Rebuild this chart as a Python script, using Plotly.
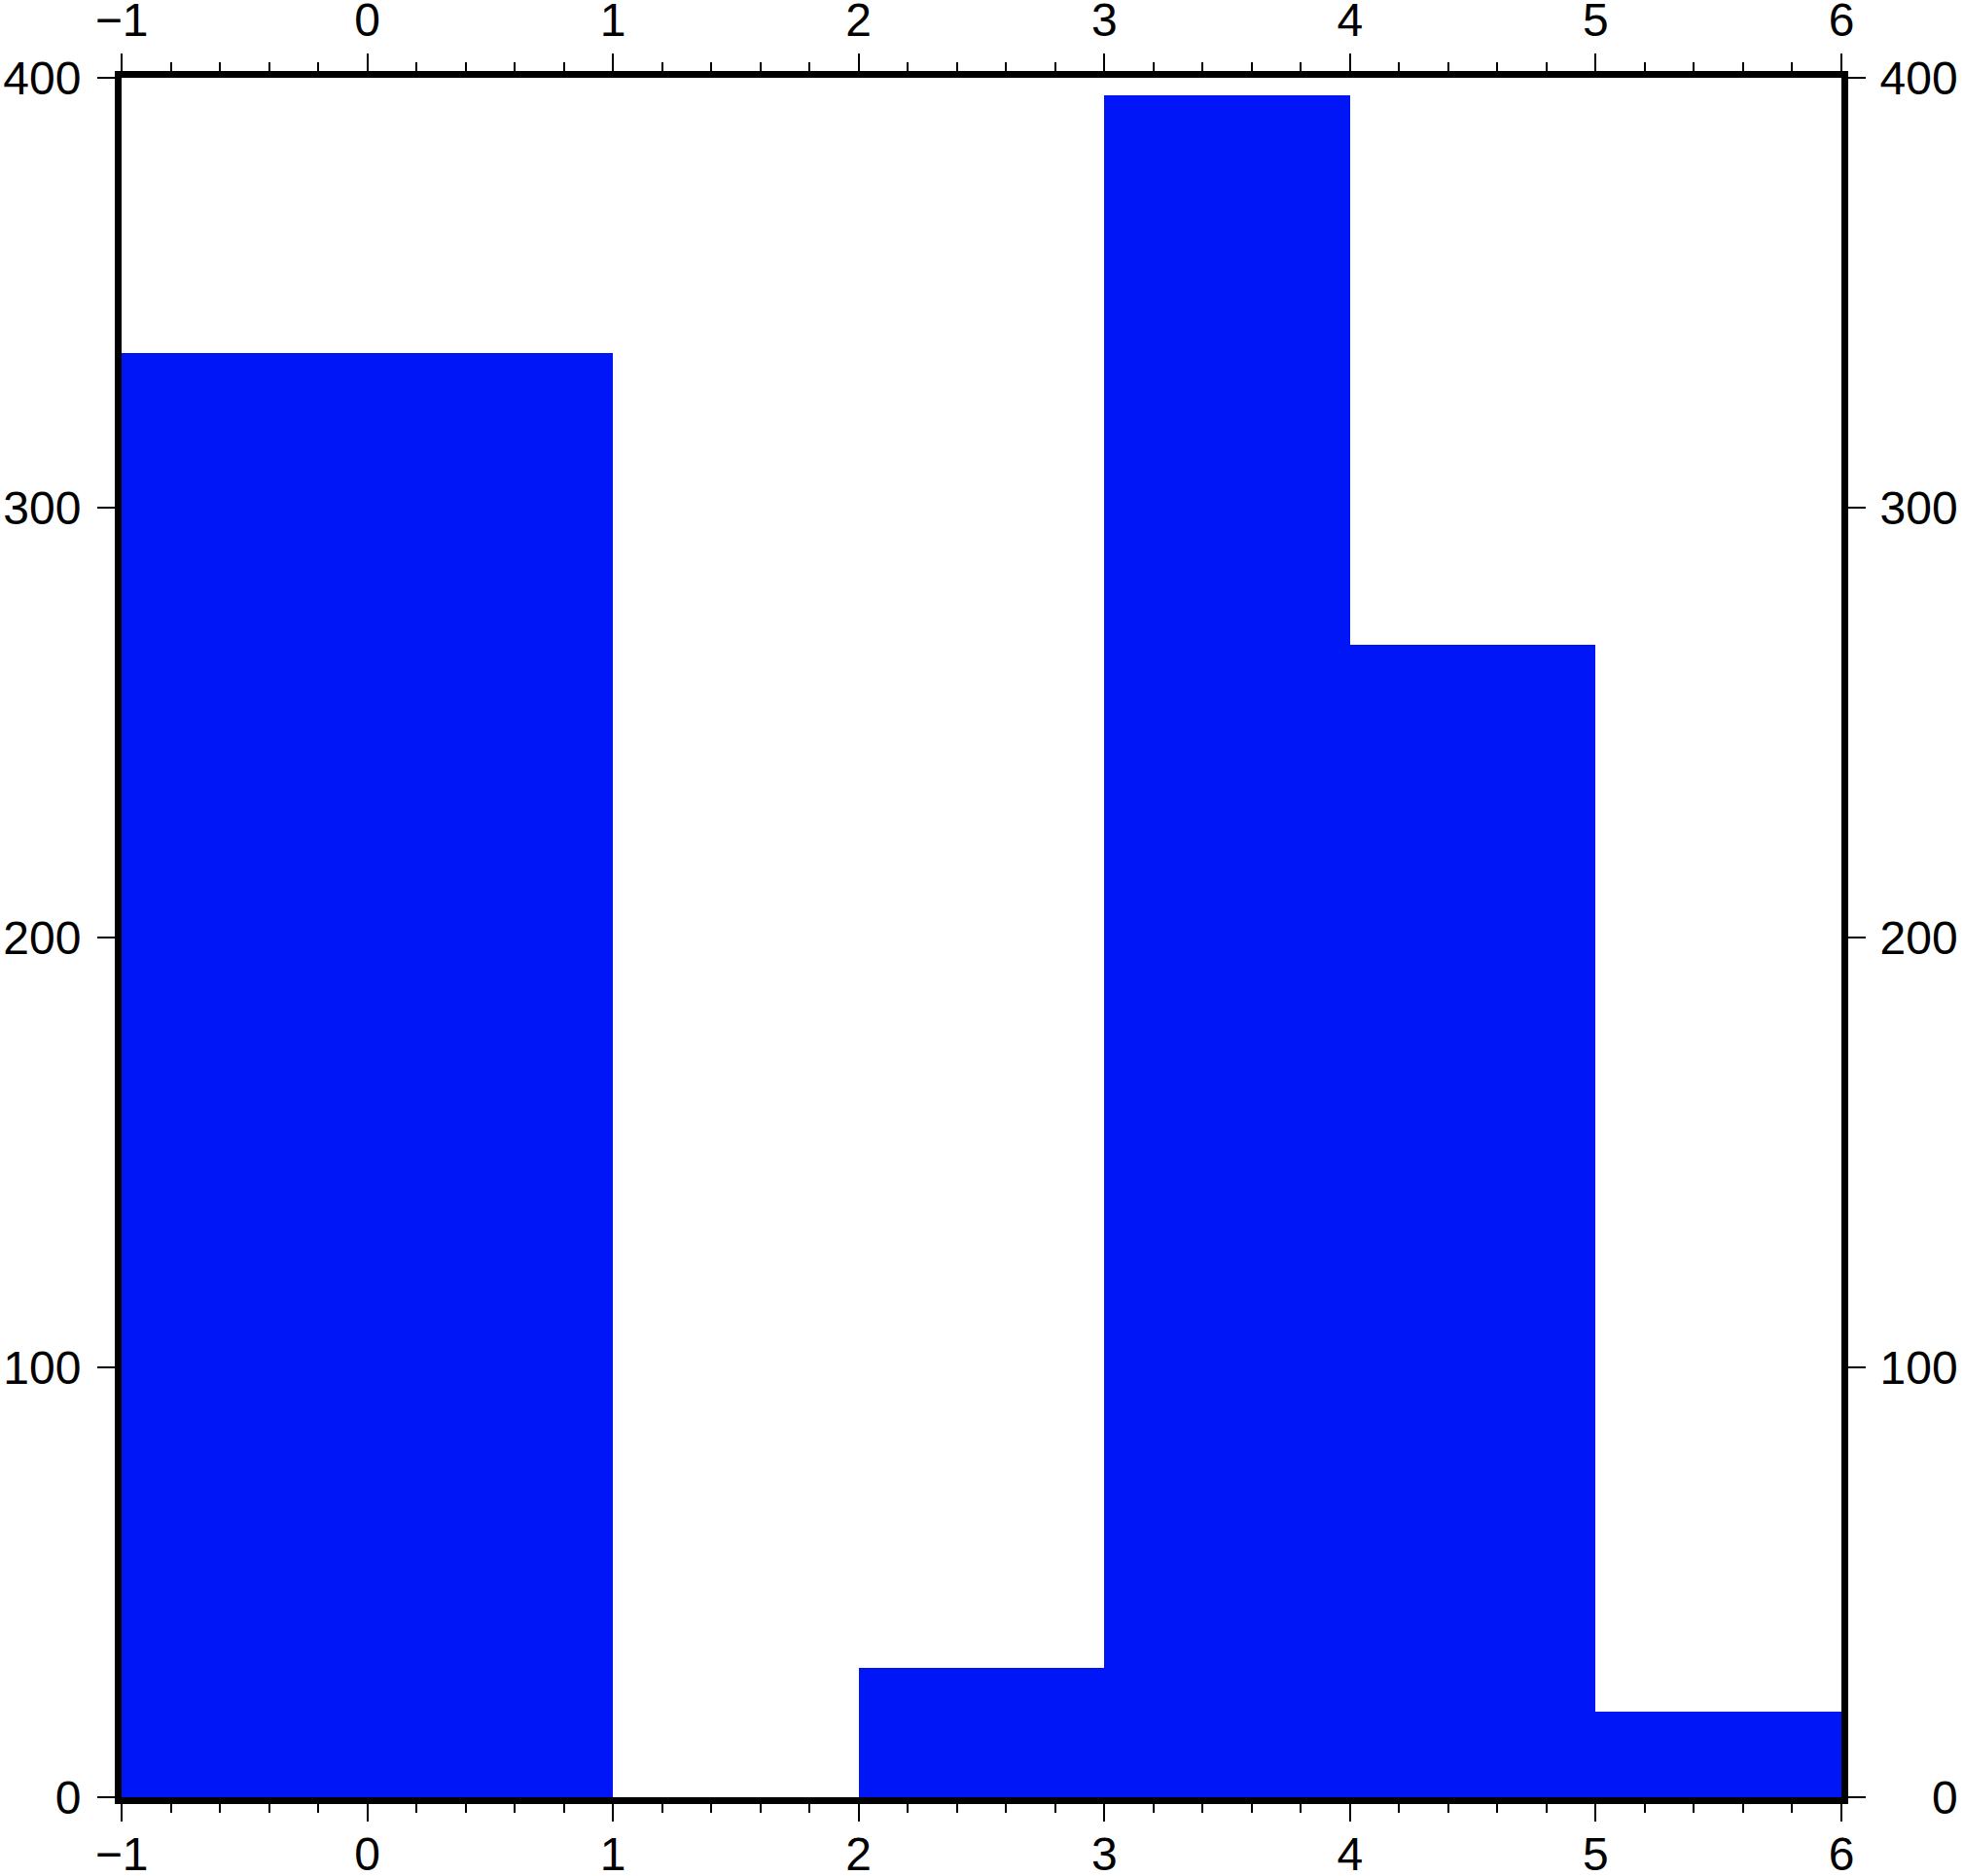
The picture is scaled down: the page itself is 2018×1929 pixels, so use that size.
import plotly.graph_objects as go

# histogram bins (edges) and counts
bin_edges = [-1, 1, 2, 3, 4, 5, 6]
counts = [336, 0, 30, 396, 268, 20]

x_ticks = [-1, 0, 1, 2, 3, 4, 5, 6]
y_ticks = [0, 100, 200, 300, 400]

bar_color = '#0016F7'
font = dict(family='Liberation Sans, Arial, sans-serif', size=48, color='black')

centers = [(a + b) / 2 for a, b in zip(bin_edges[:-1], bin_edges[1:])]
widths = [b - a for a, b in zip(bin_edges[:-1], bin_edges[1:])]

fig = go.Figure()
fig.add_trace(go.Bar(x=centers, y=counts, width=widths,
                     marker=dict(color=bar_color, line=dict(width=0)),
                     showlegend=False))
# empty trace so the mirrored top/right axes get a subplot
fig.add_trace(go.Scatter(x=[], y=[], xaxis='x2', yaxis='y2',
                         showlegend=False, hoverinfo='skip'))

common = dict(showline=True, linewidth=7, linecolor='black', mirror=False,
              ticks='outside', ticklen=18, tickwidth=2, tickcolor='black',
              showgrid=False, zeroline=False, tickfont=font, automargin=False)

xr = [bin_edges[0], bin_edges[-1]]
yr = [y_ticks[0], y_ticks[-1]]
x_minor = dict(dtick=0.2, ticklen=9, tickwidth=2, tickcolor='black', ticks='outside', showgrid=False)

# right-side labels are right-justified like the original
right_labels = [str(v).rjust(3, '\u2007') for v in y_ticks]

fig.update_layout(
    width=2018, height=1929,
    margin=dict(l=125, r=125, t=80, b=81),
    paper_bgcolor='white', plot_bgcolor='white',
    bargap=0,
    xaxis=dict(range=xr, tickvals=x_ticks, side='bottom', minor=x_minor,
               ticklabelstandoff=-8, **common),
    xaxis2=dict(range=xr, tickvals=x_ticks, side='top', overlaying='x', anchor='y',
                minor=x_minor, ticklabelstandoff=-1, **common),
    yaxis=dict(range=yr, tickvals=y_ticks, side='left', ticklabelstandoff=7, **common),
    yaxis2=dict(range=yr, tickvals=y_ticks, ticktext=right_labels, side='right',
                overlaying='y', anchor='x', ticklabelstandoff=5, **common),
)

fig.write_html('out.html', config={'displayModeBar': False},
               post_script="document.body.style.margin='0';")
